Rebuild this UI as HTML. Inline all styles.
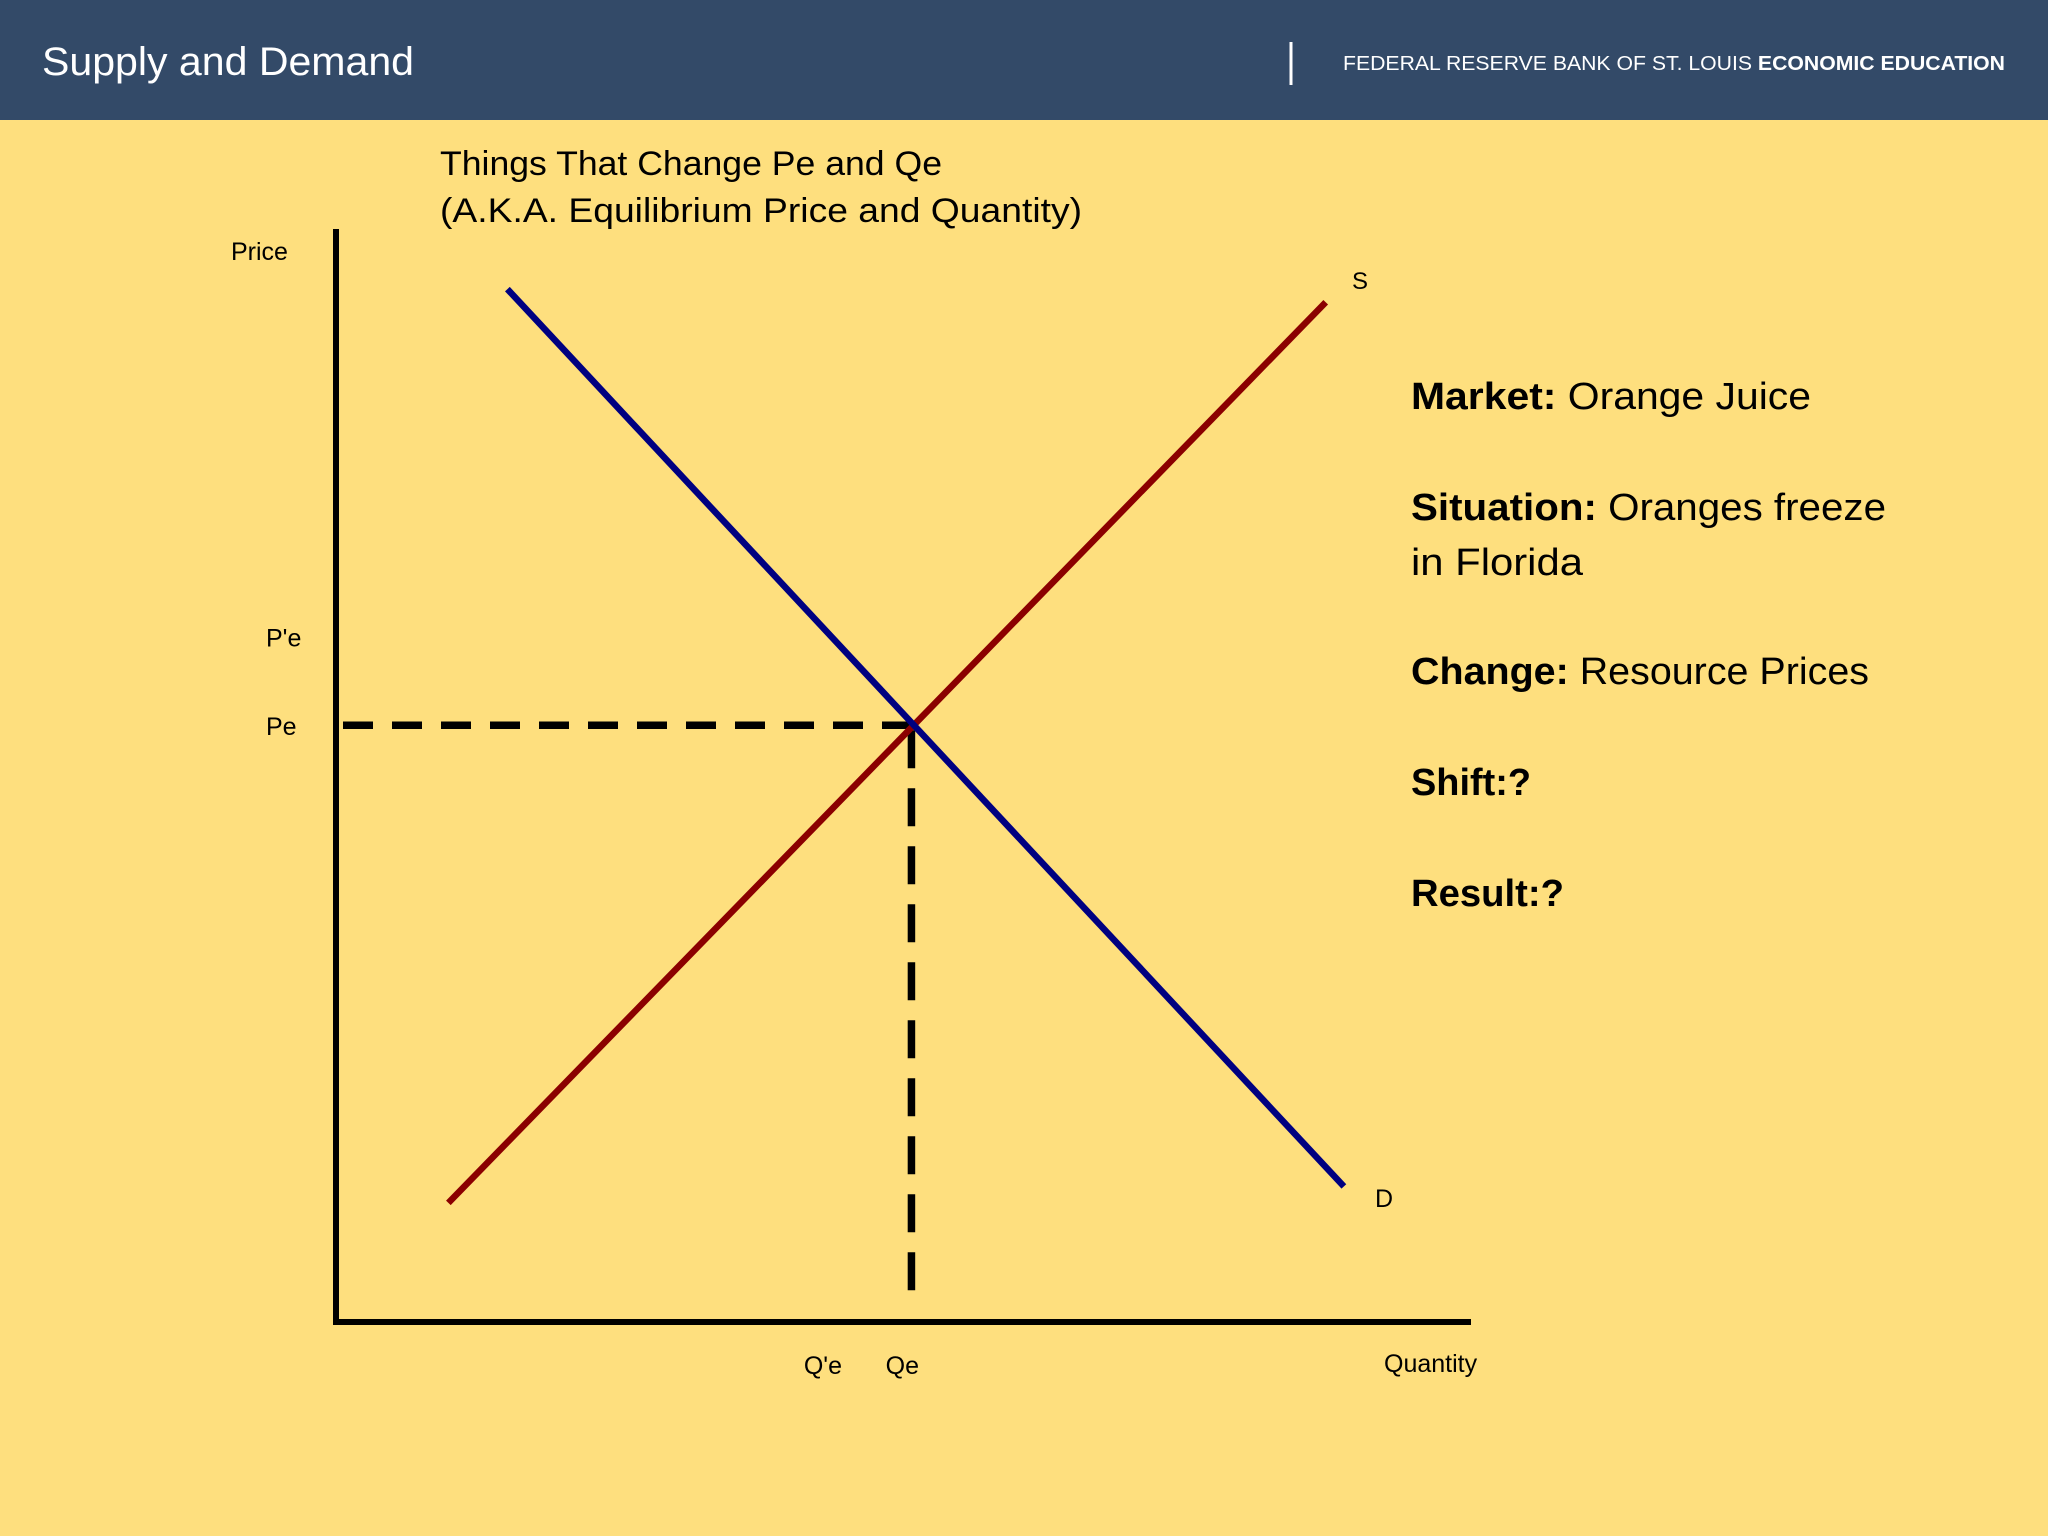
<!DOCTYPE html>
<html><head><meta charset="utf-8"><style>
html,body{margin:0;padding:0;width:2048px;height:1536px;overflow:hidden;background:#fedf7e;}
svg{display:block}
</style></head><body>
<svg width="2048" height="1536" viewBox="0 0 2048 1536" font-family="'Liberation Sans', sans-serif">
<rect x="0" y="0" width="2048" height="1536" fill="#fedf7e"/>
<rect x="0" y="0" width="2048" height="120" fill="#334a68"/>
<text x="42" y="75" font-size="40" fill="#fff" textLength="372" lengthAdjust="spacingAndGlyphs">Supply and Demand</text>
<line x1="1291" y1="42" x2="1291" y2="85" stroke="#fff" stroke-width="3"/>
<text x="1343" y="70" font-size="20" fill="#fff" textLength="662" lengthAdjust="spacingAndGlyphs">FEDERAL RESERVE BANK OF ST. LOUIS <tspan font-weight="bold">ECONOMIC EDUCATION</tspan></text>
<text x="440" y="175" font-size="34" fill="#000" textLength="502" lengthAdjust="spacingAndGlyphs">Things That Change Pe and Qe</text>
<text x="440" y="222" font-size="34" fill="#000" textLength="642" lengthAdjust="spacingAndGlyphs">(A.K.A. Equilibrium Price and Quantity)</text>
<g id="chart"></g>
<g font-size="38" fill="#000">
<text x="1411" y="409" textLength="400" lengthAdjust="spacingAndGlyphs"><tspan font-weight="bold">Market:</tspan> Orange Juice</text>
<text x="1411" y="520" textLength="475" lengthAdjust="spacingAndGlyphs"><tspan font-weight="bold">Situation:</tspan> Oranges freeze</text>
<text x="1411" y="575" textLength="172" lengthAdjust="spacingAndGlyphs">in Florida</text>
<text x="1411" y="684" textLength="458" lengthAdjust="spacingAndGlyphs"><tspan font-weight="bold">Change:</tspan> Resource Prices</text>
<text x="1411" y="795" font-weight="bold" textLength="120" lengthAdjust="spacingAndGlyphs">Shift:?</text>
<text x="1411" y="906" font-weight="bold" textLength="153" lengthAdjust="spacingAndGlyphs">Result:?</text>
</g>
</svg>
<script>
const supplyQ = [9.9, 87.2];
const supplyP = [10.9, 93.3];
const demandQ = [15.1, 88.8];
const demandP = [94.5, 12.4];
const eqQ = [50.7];
const eqP = [54.6];
const priceLabels = ["P'e", "Pe"];
const priceLabelVals = [62.7, 54.6];
const qtyLabels = ["Q'e", "Qe"];
const qtyLabelVals = [42.9, 49.9];

const X0=336, X1=1471, Y0=1322, Y1=229;
function sx(v){return X0+(X1-X0)*v/100;}
function sy(v){return Y0-(Y0-Y1)*v/100;}
const NS='http://www.w3.org/2000/svg';
const g=document.getElementById('chart');
function mk(tag,attrs,txt){const e=document.createElementNS(NS,tag);for(const k in attrs)e.setAttribute(k,attrs[k]);if(txt!==undefined)e.textContent=txt;g.appendChild(e);return e;}

let e;
e=mk('line',{x1:sx(0),y1:sy(0)+3,x2:sx(0),y2:Y1,stroke:'#000','stroke-width':6});


e=mk('line',{x1:sx(0)-3,y1:sy(0),x2:X1,y2:sy(0),stroke:'#000','stroke-width':6});



e=mk('line',{x1:sx(0)+7,y1:sy(eqP[0]),x2:sx(eqQ[0]),y2:sy(eqP[0]),stroke:'#000','stroke-width':7.5,'stroke-dasharray':'30 19'});


e=mk('line',{x1:sx(eqQ[0]),y1:sy(eqP[0])+5,x2:sx(eqQ[0]),y2:sy(2),stroke:'#000','stroke-width':7.5,'stroke-dasharray':'38 20'});



e=mk('line',{x1:sx(supplyQ[0]),y1:sy(supplyP[0]),x2:sx(supplyQ[1]),y2:sy(supplyP[1]),stroke:'#8b0000','stroke-width':6.5});


e=mk('line',{x1:sx(demandQ[0]),y1:sy(demandP[0]),x2:sx(demandQ[1]),y2:sy(demandP[1]),stroke:'#000080','stroke-width':6.5});



e=mk('text',{x:1352,y:289,'font-size':24},'S');


e=mk('text',{x:1375,y:1207,'font-size':25},'D');


e=mk('text',{x:231,y:260,'font-size':25},'Price');


e=mk('text',{x:1384,y:1372,'font-size':25},'Quantity');


priceLabels.forEach((t,i)=>{
  const el=mk('text',{x:266,y:sy(priceLabelVals[i])+10,'font-size':25},t);
  
  
});
qtyLabels.forEach((t,i)=>{
  const el=mk('text',{x:sx(qtyLabelVals[i]),y:1374,'font-size':25,'text-anchor':'middle'},t);
  
  
});
</script>
</body></html>
